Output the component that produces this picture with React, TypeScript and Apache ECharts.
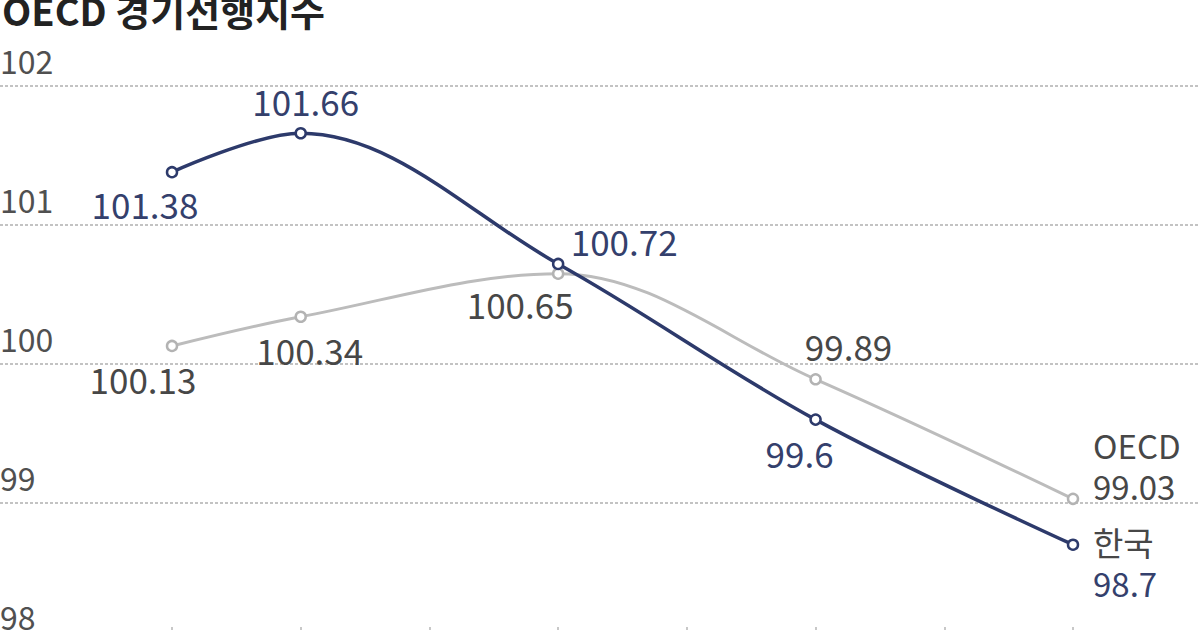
import React, { useEffect, useRef } from "react";
import * as echarts from "echarts";

// x positions are period indices on an 8-tick axis (0..7)
const periods = [0, 1, 3, 5, 7];
const koreaValues = [101.38, 101.66, 100.72, 99.6, 98.7];
const oecdValues = [100.13, 100.34, 100.65, 99.89, 99.03];
const seriesNames = ["한국", "OECD"];
const yTicks = [98, 99, 100, 101, 102];
const titleText = "OECD 경기선행지수";

// label placement (style, not data)
const koreaLabelOffsets = [
  [-27, 31],
  [5, -33],
  [66, -23],
  [-16, 33],
  [20, 18],
];
const oecdLabelOffsets = [
  [-29, 33],
  [9, 33],
  [-38, 30],
  [33, -34],
  [20, -33],
];

const FONT = '"Noto Sans CJK KR", "Noto Sans", sans-serif';
const NAVY = "#2d3a6b";
const NAVY_TEXT = "#34406c";
const GRAY_LINE = "#bcbcbc";
const GRAY_TEXT = "#474747";
const LABEL_SIZE = 35;

function buildData(values: number[], offsets: number[][], name: string, valueColor: string) {
  return values.map((v, i) => {
    const isLast = i === values.length - 1;
    return {
      value: [periods[i], v],
      label: {
        show: true,
        position: "inside",
        offset: offsets[i],
        align: isLast ? "left" : "center",
        verticalAlign: "middle",
        formatter: isLast ? `{n|${name}}\n{v|${v}}` : `${v}`,
        color: valueColor,
        fontSize: LABEL_SIZE,
        fontFamily: FONT,
        rich: {
          n: { fontSize: 33, fontFamily: FONT, color: GRAY_TEXT, lineHeight: 41 },
          v: { fontSize: 33, fontFamily: FONT, color: valueColor, lineHeight: 41 },
        },
      },
    };
  });
}

export default function App() {
  const ref = useRef<HTMLDivElement>(null);
  useEffect(() => {
    if (!ref.current) return;
    const chart = echarts.init(ref.current, null, { renderer: "svg" });
    chart.setOption({
      animation: false,
      backgroundColor: "#ffffff",
      title: {
        text: titleText,
        left: -3,
        top: -15,
        textStyle: { fontSize: 38, fontWeight: "bold", color: "#222", fontFamily: FONT },
      },
      grid: [
        { left: 0, top: 86, width: 1200, height: 556, outerBoundsMode: "none", containLabel: false },
        { left: 172, top: 86, width: 901, height: 556, outerBoundsMode: "none", containLabel: false },
      ],
      xAxis: [
        {
          gridIndex: 0,
          type: "value",
          min: 0,
          max: 1,
          show: false,
        },
        {
          gridIndex: 1,
          type: "value",
          min: 0,
          max: 7,
          interval: 1,
          axisLine: { show: false },
          axisTick: { show: true, inside: true, length: 15, lineStyle: { color: "#c8c8c8", width: 2 } },
          axisLabel: { show: false },
          splitLine: { show: false },
        },
      ],
      yAxis: [
        {
          gridIndex: 0,
          type: "value",
          min: yTicks[0],
          max: yTicks[yTicks.length - 1],
          interval: 1,
          axisLine: { show: false },
          axisTick: { show: false },
          axisLabel: {
            inside: true,
            margin: 0,
            align: "left",
            verticalAlign: "bottom",
            padding: [0, 0, 10, 0],
            fontSize: 32,
            color: "#505050",
            fontFamily: FONT,
          },
          splitLine: { lineStyle: { color: "#b0b0b0", type: [3, 2], width: 1.6 } },
        },
        {
          gridIndex: 1,
          type: "value",
          min: yTicks[0],
          max: yTicks[yTicks.length - 1],
          show: false,
        },
      ],
      series: [
        {
          name: seriesNames[1],
          type: "line",
          xAxisIndex: 1,
          yAxisIndex: 1,
          smooth: 0.35,
          symbol: "circle",
          symbolSize: 10,
          lineStyle: { color: GRAY_LINE, width: 3 },
          itemStyle: { color: "#ffffff", borderColor: "#b3b3b3", borderWidth: 2.5 },
          z: 2,
          data: buildData(oecdValues, oecdLabelOffsets, seriesNames[1], GRAY_TEXT),
        },
        {
          name: seriesNames[0],
          type: "line",
          xAxisIndex: 1,
          yAxisIndex: 1,
          smooth: 0.35,
          symbol: "circle",
          symbolSize: 10,
          lineStyle: { color: NAVY, width: 3.5 },
          itemStyle: { color: "#ffffff", borderColor: NAVY, borderWidth: 2.5 },
          z: 3,
          data: buildData(koreaValues, koreaLabelOffsets, seriesNames[0], NAVY_TEXT),
        },
      ],
    });
    return () => chart.dispose();
  }, []);
  return (
    <div
      ref={ref}
      style={{ position: "fixed", left: 0, top: 0, width: 1200, height: 630, background: "#fff" }}
    />
  );
}
